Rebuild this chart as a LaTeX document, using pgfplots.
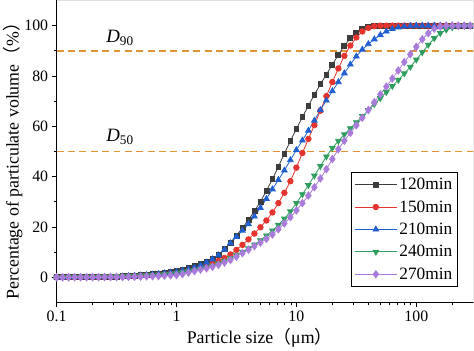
\documentclass[border=0pt]{standalone}
\usepackage{fontspec}
\setmainfont{Liberation Serif}
\newfontfamily\cjk{Noto Sans CJK SC}
\usepackage{pgfplots}
\usepackage{pgfplotstable}
\pgfplotsset{compat=1.18}
\definecolor{cA}{HTML}{3C3C3C}
\definecolor{cB}{HTML}{E5332E}
\definecolor{cC}{HTML}{1F5FCF}
\definecolor{cD}{HTML}{2E9E5E}
\definecolor{cE}{HTML}{A97BDB}
\definecolor{cO}{HTML}{E39432}
\pgfplotstableread{
x a b c d e
0.1 0 0 0 0 0
0.1122 0.03 0.02 0.03 0.03 0.01
0.1259 0.06 0.04 0.06 0.06 0.02
0.1413 0.09 0.06 0.09 0.09 0.03
0.1585 0.12 0.08 0.12 0.12 0.04
0.1778 0.15 0.10 0.15 0.15 0.05
0.1995 0.18 0.12 0.18 0.18 0.06
0.2239 0.21 0.14 0.21 0.21 0.07
0.2512 0.24 0.16 0.24 0.24 0.08
0.2818 0.27 0.18 0.27 0.27 0.09
0.3162 0.30 0.20 0.30 0.30 0.10
0.3548 0.42 0.30 0.40 0.38 0.14
0.3981 0.56 0.40 0.52 0.46 0.18
0.4467 0.72 0.50 0.66 0.55 0.23
0.5012 0.88 0.60 0.80 0.64 0.29
0.5623 1.04 0.70 0.95 0.74 0.36
0.6310 1.20 0.80 1.10 0.85 0.44
0.7079 1.50 1.00 1.35 1.00 0.53
0.7943 1.80 1.20 1.60 1.15 0.64
0.8913 2.20 1.45 1.90 1.35 0.77
1.0 2.60 1.70 2.20 1.60 0.92
1.1220 3.10 2.15 2.70 1.95 1.30
1.2589 3.60 2.60 3.20 2.35 1.90
1.4125 4.40 3.20 3.90 2.75 2.50
1.5849 5.20 3.80 4.80 3.20 3.10
1.7783 6.30 4.60 5.90 3.90 3.60
1.9953 7.40 5.40 7.20 4.60 4.20
2.2387 8.80 6.50 8.80 5.50 5.00
2.5119 11.2 7.70 11.0 6.50 5.90
2.8184 13.8 9.10 13.6 7.70 6.90
3.1623 16.6 10.9 16.1 8.90 8.20
3.5481 19.6 12.9 18.6 10.1 9.60
3.9811 22.8 15.1 21.2 11.5 11.0
4.4668 26.3 17.4 24.2 13.0 12.4
5.0119 30.1 19.9 27.6 14.7 13.8
5.6234 34.4 22.6 31.2 16.6 15.3
6.3096 39.0 25.8 35.0 18.6 17.0
7.0795 44.0 29.5 38.7 20.8 19.1
7.9433 49.2 33.6 42.5 23.3 21.4
8.9125 54.2 38.2 46.6 26.2 23.9
10.0 59.0 43.6 50.6 29.5 26.6
11.220 63.7 49.4 54.4 33.0 29.5
12.589 68.2 55.0 58.3 36.6 32.5
14.125 72.6 60.5 62.3 40.4 35.8
15.849 76.7 66.2 66.5 44.2 39.3
17.783 80.6 72.0 70.3 48.0 43.0
19.953 84.5 77.6 74.0 51.4 47.0
22.387 88.4 83.0 77.6 54.2 50.9
25.119 92.0 88.0 81.1 56.8 54.3
28.184 95.0 92.1 84.6 59.2 57.4
31.623 97.3 95.3 87.8 61.6 60.4
35.481 98.8 97.7 90.5 64.0 63.4
39.811 99.6 99.1 92.7 66.4 66.5
44.668 100 99.8 94.6 68.8 69.6
50.119 100 100 96.3 71.2 72.7
56.234 100 100 97.7 73.6 75.8
63.096 100 100 98.7 76.0 79.0
70.795 100 100 99.3 78.4 82.2
79.433 100 100 99.7 81.0 85.5
89.125 100 100 99.9 83.6 88.6
100.0 100 100 100 86.5 91.6
112.20 100 100 100 89.4 94.6
125.89 100 100 100 92.4 97.0
141.25 100 100 100 95.0 98.8
158.49 100 100 100 97.0 99.6
177.83 100 100 100 98.4 100
199.53 100 100 100 99.3 100
223.87 100 100 100 99.8 100
251.19 100 100 100 100 100
281.84 100 100 100 100 100
}\psd
\begin{document}
\begin{tikzpicture}
\begin{axis}[
  scale only axis, width=421pt, height=305pt,
  xmode=log, xmin=0.1, xmax=300, ymin=-10, ymax=110,
  axis x line*=bottom, axis y line*=left,
  axis line style={line width=1pt, black},
  xtick={0.1,1,10,100}, xticklabels={0.1,1,10,100},
  minor xtick={0.2,0.3,0.4,0.5,0.6,0.7,0.8,0.9,2,3,4,5,6,7,8,9,20,30,40,50,60,70,80,90,200},
  ytick={0,20,40,60,80,100}, minor ytick={10,30,50,70,90},
  tick align=outside, major tick length=5pt, minor tick length=3pt,
  every tick/.style={black, line width=0.8pt},
  /pgf/number format/assume math mode=true,
  tick label style={font=\fontsize{16}{18}\selectfont},
  label style={font=\fontsize{18}{20}\selectfont},
  xlabel={Particle size{\cjk （}μm{\cjk ）}},
  ylabel={Percentage of particulate volume{\cjk （}\%{\cjk ）}},
  xlabel style={at={(axis description cs:0.487,0)}, anchor=north, yshift=-22pt},
  ylabel style={at={(axis description cs:0,0.483)}, anchor=south, yshift=31pt},
  legend style={at={(0.962,0.051)}, anchor=south east, draw=black, line width=0.8pt,
    font=\fontsize{17.5}{19}\selectfont, inner xsep=3pt, inner ysep=4pt, row sep=5.5pt},
  legend cell align=left,
  legend image code/.code={\draw[#1, mark repeat=2, mark phase=2] plot coordinates {(0cm,0cm) (0.75cm,0cm) (1.5cm,0cm)};},
  every axis plot/.append style={line width=0.8pt},
]
\addplot[cO, dash pattern=on 7pt off 4.5pt, line width=1.8pt, forget plot] coordinates {(0.1,90) (300,90)};
\addplot[cO, dash pattern=on 7pt off 4.5pt, line width=1.8pt, forget plot] coordinates {(0.1,50) (300,50)};
\addplot[cA, mark=square*, mark size=2.5pt, mark options={solid, fill=cA}] table[x=x, y=a] {\psd};
\addlegendentry{120min}
\addplot[cB, mark=*, mark size=2.8pt, mark options={solid, fill=cB}] table[x=x, y=b] {\psd};
\addlegendentry{150min}
\addplot[cC, mark=triangle*, mark size=3.3pt, mark options={solid, fill=cC}] table[x=x, y=c] {\psd};
\addlegendentry{210min}
\addplot[cD, mark=triangle*, mark size=3.3pt, mark options={solid, fill=cD, rotate=180}] table[x=x, y=d] {\psd};
\addlegendentry{240min}
\addplot[cE, mark=diamond*, mark size=3.7pt, mark options={solid, fill=cE}] table[x=x, y=e] {\psd};
\addlegendentry{270min}
\draw[gray!25, line width=1.5pt] (rel axis cs:0,1) -- (rel axis cs:1,1) -- (rel axis cs:1,0);
\node[anchor=base west, inner sep=0pt, font=\fontsize{19}{20}\selectfont] at (axis cs:0.259,93.3) {\textit{D}\textsubscript{90}};
\node[anchor=base west, inner sep=0pt, font=\fontsize{19}{20}\selectfont] at (axis cs:0.259,53.8) {\textit{D}\textsubscript{50}};
\end{axis}
\end{tikzpicture}
\end{document}
